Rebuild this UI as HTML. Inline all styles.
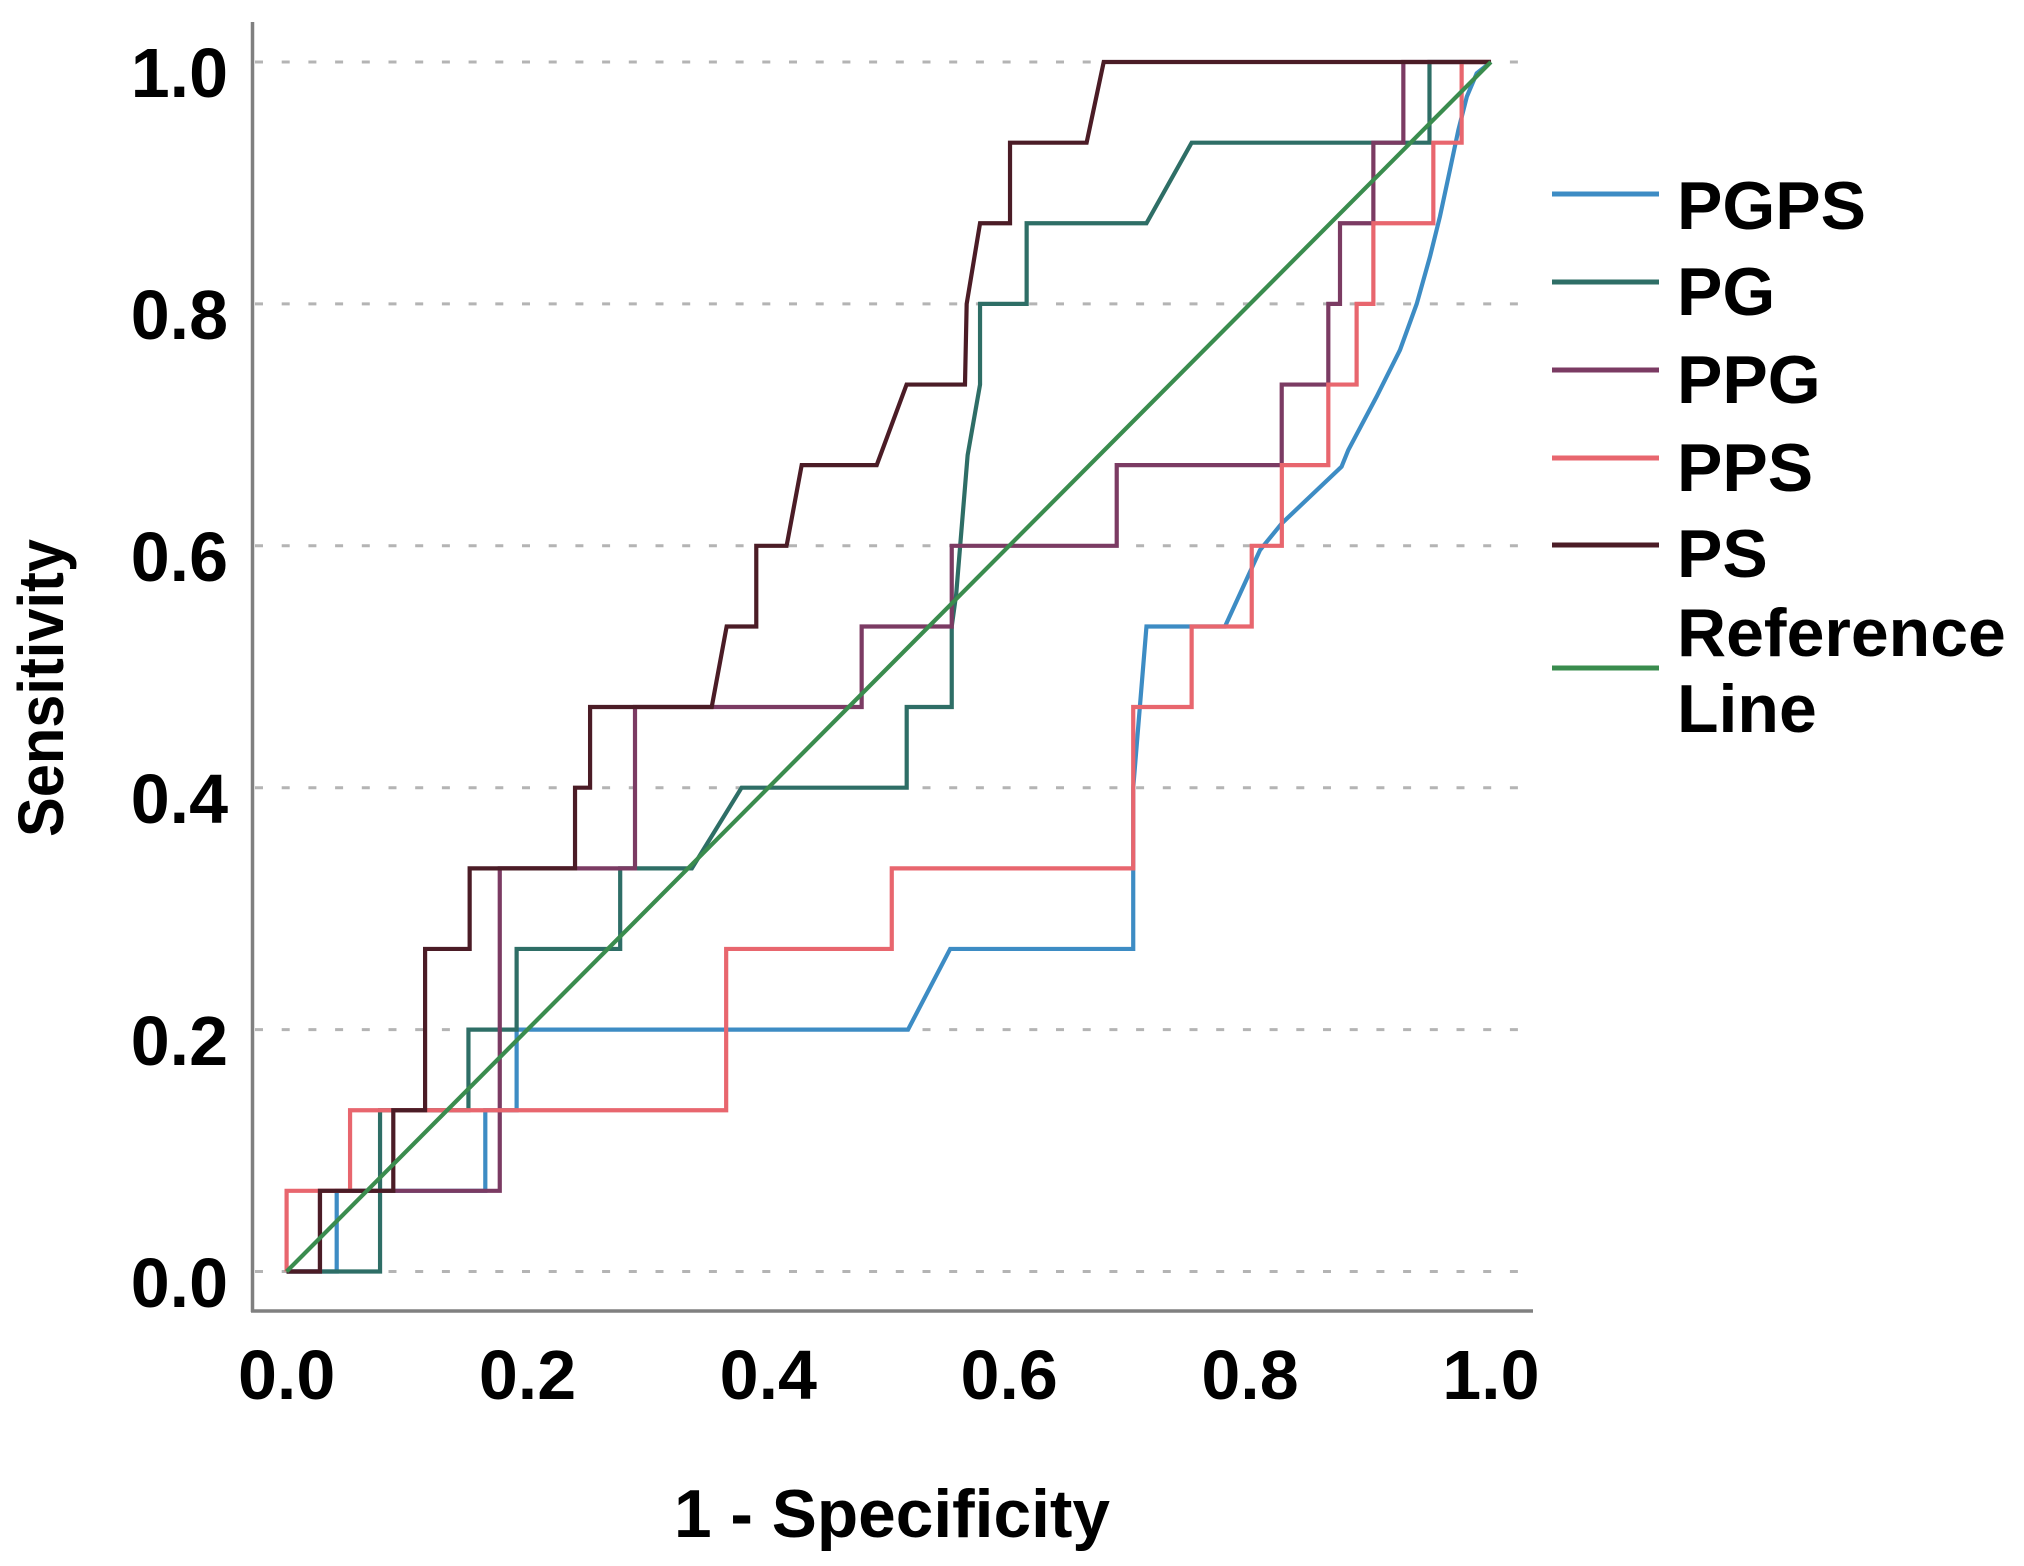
<!DOCTYPE html>
<html>
<head>
<meta charset="utf-8">
<style>
  html, body { margin: 0; padding: 0; background: #ffffff; }
  svg { display: block; }
  text { font-family: "Liberation Sans", Arial, sans-serif; font-weight: bold; fill: #000; }
</style>
</head>
<body>
<svg xmlns="http://www.w3.org/2000/svg" width="2024" height="1566" viewBox="0 0 2024 1566">
  <rect x="0" y="0" width="2024" height="1566" fill="#ffffff"/>

  <!-- gridlines -->
  <g stroke="#b4b4b4" stroke-width="3" stroke-dasharray="8 18.7" fill="none">
    <line x1="255" y1="62" x2="1525" y2="62"/>
    <line x1="255" y1="303.9" x2="1525" y2="303.9"/>
    <line x1="255" y1="545.8" x2="1525" y2="545.8"/>
    <line x1="255" y1="787.7" x2="1525" y2="787.7"/>
    <line x1="255" y1="1029.6" x2="1525" y2="1029.6"/>
    <line x1="255" y1="1271.5" x2="1525" y2="1271.5"/>
  </g>

  <!-- axes -->
  <g stroke="#808080" stroke-width="3.5" fill="none">
    <line x1="252.5" y1="22" x2="252.5" y2="1312"/>
    <line x1="251" y1="1311" x2="1533" y2="1311"/>
  </g>

  <!-- y tick labels -->
  <g font-size="70" text-anchor="end">
    <text x="228" y="97">1.0</text>
    <text x="228" y="339">0.8</text>
    <text x="228" y="581">0.6</text>
    <text x="228" y="823">0.4</text>
    <text x="228" y="1065">0.2</text>
    <text x="228" y="1307">0.0</text>
  </g>

  <!-- x tick labels -->
  <g font-size="70" text-anchor="middle">
    <text x="286.6" y="1399">0.0</text>
    <text x="527.5" y="1399">0.2</text>
    <text x="768.3" y="1399">0.4</text>
    <text x="1009.2" y="1399">0.6</text>
    <text x="1250" y="1399">0.8</text>
    <text x="1490.9" y="1399">1.0</text>
  </g>

  <!-- axis titles -->
  <text x="892" y="1537" font-size="68" text-anchor="middle" textLength="436" lengthAdjust="spacingAndGlyphs">1 - Specificity</text>
  <text transform="translate(63,688) rotate(-90)" font-size="64" text-anchor="middle" textLength="298" lengthAdjust="spacingAndGlyphs">Sensitivity</text>

  <!-- curves -->
  <g transform="matrix(1204.3 0 0 -1209.5 286.6 1271.5)" fill="none" stroke-width="4.2" stroke-linejoin="miter">
    <!-- PGPS -->
    <polyline vector-effect="non-scaling-stroke" stroke="#3d8cc4" points="0,0 0.0416,0 0.0416,0.0667 0.165,0.0667 0.165,0.1333 0.191,0.1333 0.191,0.2 0.516,0.2 0.551,0.2667 0.703,0.2667 0.703,0.4 0.714,0.5333 0.7792,0.5333 0.8083,0.5965 0.8264,0.6186 0.876,0.6654 0.8816,0.6792 0.9051,0.7233 0.9245,0.7619 0.9384,0.8 0.9494,0.839 0.9577,0.8723 0.966,0.9109 0.973,0.9438 0.98,0.9713 0.9882,0.9906 1,1"/>
    <!-- PG -->
    <polyline vector-effect="non-scaling-stroke" stroke="#2e6e66" points="0,0 0.0776,0 0.0776,0.1333 0.151,0.1333 0.151,0.2 0.191,0.2 0.191,0.2667 0.277,0.2667 0.277,0.3333 0.3365,0.3333 0.3778,0.4 0.5149,0.4 0.5149,0.4667 0.5523,0.4667 0.5523,0.5333 0.556,0.56 0.5655,0.675 0.5758,0.7333 0.5758,0.8 0.6145,0.8 0.6145,0.8667 0.714,0.8667 0.7515,0.9333 0.949,0.9333 0.949,1 1,1"/>
    <!-- PPG -->
    <polyline vector-effect="non-scaling-stroke" stroke="#7b3b63" points="0,0 0.0277,0 0.0277,0.0667 0.177,0.0667 0.177,0.3333 0.2893,0.3333 0.2893,0.4667 0.4775,0.4667 0.4775,0.5333 0.5523,0.5333 0.5523,0.6 0.6893,0.6 0.6893,0.6667 0.8263,0.6667 0.8263,0.7333 0.865,0.7333 0.865,0.8 0.8747,0.8 0.8747,0.8667 0.9024,0.8667 0.9024,0.9333 0.9273,0.9333 0.9273,1 1,1"/>
    <!-- PPS -->
    <polyline vector-effect="non-scaling-stroke" stroke="#e8666e" points="0,0 0,0.0667 0.0527,0.0667 0.0527,0.1333 0.365,0.1333 0.365,0.2667 0.5025,0.2667 0.5025,0.3333 0.703,0.3333 0.703,0.4667 0.7515,0.4667 0.7515,0.5333 0.8014,0.5333 0.8014,0.6 0.8264,0.6 0.8264,0.6667 0.865,0.6667 0.865,0.7333 0.8885,0.7333 0.8885,0.8 0.9024,0.8 0.9024,0.8667 0.9522,0.8667 0.9522,0.9333 0.9757,0.9333 0.9757,1 1,1"/>
    <!-- PS -->
    <polyline vector-effect="non-scaling-stroke" stroke="#4b1c26" points="0,0 0.0277,0 0.0277,0.0667 0.0886,0.0667 0.0886,0.1333 0.115,0.1333 0.115,0.2667 0.152,0.2667 0.152,0.3333 0.2395,0.3333 0.2395,0.4 0.252,0.4 0.252,0.4667 0.353,0.4667 0.3654,0.5333 0.39,0.5333 0.39,0.6 0.4152,0.6 0.4277,0.6667 0.49,0.6667 0.5148,0.7333 0.5633,0.7333 0.5647,0.8 0.5758,0.8667 0.6007,0.8667 0.6007,0.9333 0.6643,0.9333 0.6785,1 1,1"/>
    <!-- Reference line -->
    <polyline vector-effect="non-scaling-stroke" stroke="#3a8c4e" points="0,0 1,1"/>
  </g>

  <!-- legend -->
  <g stroke-width="5" fill="none">
    <line x1="1552" y1="194" x2="1659" y2="194" stroke="#3d8cc4"/>
    <line x1="1552" y1="282" x2="1659" y2="282" stroke="#2e6e66"/>
    <line x1="1552" y1="370" x2="1659" y2="370" stroke="#7b3b63"/>
    <line x1="1552" y1="458" x2="1659" y2="458" stroke="#e8666e"/>
    <line x1="1552" y1="545" x2="1659" y2="545" stroke="#4b1c26"/>
    <line x1="1552" y1="668" x2="1659" y2="668" stroke="#3a8c4e"/>
  </g>
  <g font-size="68">
    <text x="1677" y="229">PGPS</text>
    <text x="1677" y="315">PG</text>
    <text x="1677" y="403">PPG</text>
    <text x="1677" y="491">PPS</text>
    <text x="1677" y="577">PS</text>
    <text x="1677" y="656">Reference</text>
    <text x="1677" y="732">Line</text>
  </g>
</svg>
</body>
</html>
